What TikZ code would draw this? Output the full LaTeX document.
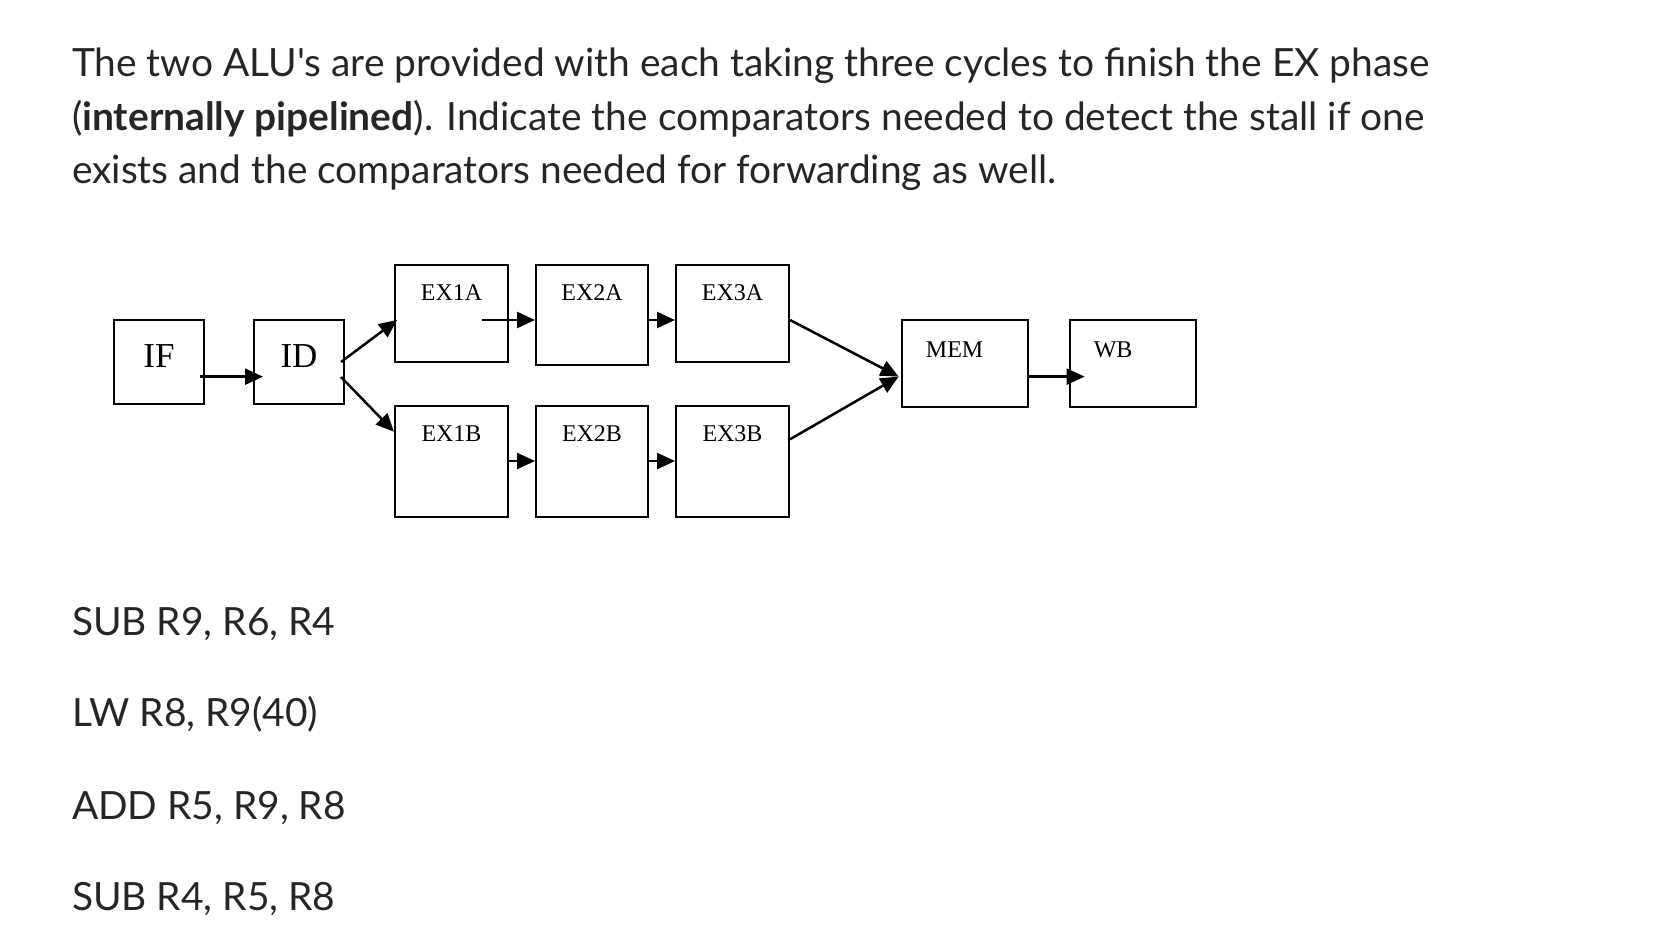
\documentclass[tikz,border=0pt]{standalone}
\usepackage{fontspec}
\setmainfont{Lato}[Ligatures=TeXOff]
\newfontfamily\boxfont{Liberation Serif}
\usetikzlibrary{arrows.meta}
\definecolor{Ink}{HTML}{262626}

\begin{document}
\begin{tikzpicture}[x=1pt,y=-1pt,line width=2pt,
>={Triangle[length=18pt,width=16pt]},
box/.style 2 args={draw,minimum width=#1pt,minimum height=#2pt,inner sep=0pt},
lbl/.style={anchor=north,inner sep=0pt,yshift=-20pt,font=\boxfont\fontsize{24}{24}\selectfont},
stage/.style={text depth=12pt,font=\boxfont\fontsize{35}{35}\selectfont},
arr/.style={->,line width=2.5pt}]
\useasboundingbox (0,0) rectangle (1660,952);
% question and code (base of a paragraph is its last line)
\path[nodes={anchor=base west,text=Ink,inner sep=0pt,font=\fontsize{38.9}{53.6}\selectfont}]
(71,183.9) node[align=left] (Q) {The two ALU's are provided with each taking three cycles to finish the EX phase\\
(\textbf{internally pipelined}). Indicate the comparators needed to detect the stall if one\\
exists and the comparators needed for forwarding as well.}
(71,635) node (I1) {SUB R9, R6, R4}
(71,726.7) node (I2) {LW R8, R9(40)}
(71,819) node (I3) {ADD R5, R9, R8}
(71,910) node (I4) {SUB R4, R5, R8}
;
% pipeline stages
\node[box={90}{84},stage] (IF) at (159,362) {IF};
\node[box={90}{84},stage] (ID) at (299,362) {ID};
\node[box={113}{97},label={[lbl]north:EX1A}] (E1A) at (451.5,313.5) {};
\node[box={112}{100},label={[lbl]north:EX2A}] (E2A) at (592,315) {};
\node[box={113}{97},label={[lbl]north:EX3A}] (E3A) at (732.5,313.5) {};
\node[box={113}{111},label={[lbl]north:EX1B}] (E1B) at (451.5,461) {};
\node[box={112}{111},label={[lbl]north:EX2B}] (E2B) at (592,461) {};
\node[box={113}{111},label={[lbl]north:EX3B}] (E3B) at (732.5,461) {};
\node[box={126}{87},label={[lbl,yshift=-2pt,xshift=-10pt]north:MEM}] (MEM) at (964.6,363.6) {};
\node[box={126}{87},label={[lbl,yshift=-2pt,xshift=-19.5pt]north:WB}] (WB) at (1132.6,363.6) {};
% connectors
\draw[arr] ([shift={(-5,14.7)}]IF.east) -- ([shift={(10,14.7)}]ID.west);
\draw[arr] ([shift={(-4,0)}]ID.east) -- ([shift={(3,6.5)}]E1A.west);
\draw[arr] ([shift={(-4,15)}]ID.east) -- ([shift={(0,-29.3)}]E1B.west);
\draw[arr] ([shift={(-27.5,6.5)}]E1A.east) -- ([shift={(0,5)}]E2A.west);
\draw[arr] ([shift={(0,5)}]E2A.east) -- ([shift={(0,6.5)}]E3A.west);
\draw[arr] (E1B.east) -- (E2B.west);
\draw[arr] (E2B.east) -- (E3B.west);
\draw[arr] ([shift={(0,6.5)}]E3A.east) -- ([shift={(-2,13)}]MEM.west);
\draw[arr] ([shift={(0,-21.7)}]E3B.east) -- ([shift={(-2,13)}]MEM.west);
\draw[arr] ([shift={(0,13)}]MEM.east) -- ([shift={(16,13)}]WB.west);
\end{tikzpicture}
\end{document}
